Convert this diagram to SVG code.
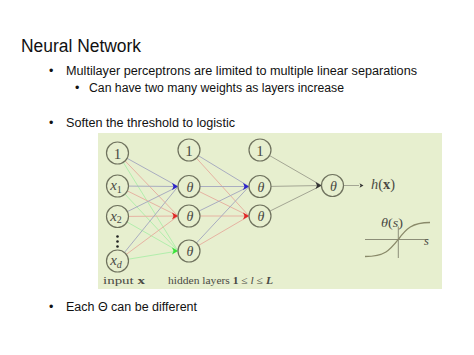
<svg xmlns="http://www.w3.org/2000/svg" width="474" height="355" viewBox="0 0 474 355">
<defs>
<style>
.t{font-family:"Liberation Sans",Arial,sans-serif;fill:#111}
.s{font-family:"Liberation Serif","DejaVu Serif",serif;fill:#4a4a44}
.n{fill:none;stroke:#6f725e;stroke-width:1.2}
.lb{stroke:#a9adc0;stroke-width:1}
.lr{stroke:#e6b3a2;stroke-width:1}
.lg{stroke:#b2eeac;stroke-width:1}
.lk{stroke:#a4a694;stroke-width:1}
</style>
<path id="ah" d="M0,0 L-6,-3.5 L-4.5,0 L-6,3.5 Z"/>
<path id="ahs" d="M0,0 L-4,-2.3 L-3,0 L-4,2.3 Z"/>
</defs>
<rect width="474" height="355" fill="#ffffff"/>
<text class="t" x="21" y="52" font-size="18" textLength="120" lengthAdjust="spacingAndGlyphs">Neural Network</text>
<text class="t" x="49" y="75" font-size="12.5">•</text>
<text class="t" x="66" y="75" font-size="12.5" textLength="351" lengthAdjust="spacingAndGlyphs">Multilayer perceptrons are limited to multiple linear separations</text>
<text class="t" x="75" y="92" font-size="12.5">•</text>
<text class="t" x="89" y="92" font-size="12.5" textLength="255" lengthAdjust="spacingAndGlyphs">Can have two many weights as layers increase</text>
<text class="t" x="49" y="127" font-size="12.5">•</text>
<text class="t" x="66" y="127" font-size="12.5" textLength="169" lengthAdjust="spacingAndGlyphs">Soften the threshold to logistic</text>
<text class="t" x="49" y="311" font-size="12.5">•</text>
<text class="t" x="66" y="311" font-size="12.5" textLength="131" lengthAdjust="spacingAndGlyphs">Each Θ can be different</text>
<rect x="98" y="133" width="344" height="156" fill="#e7efcf"/>
<g id="connectors" fill="none">
<line class="lb" x1="127.1" y1="158.3" x2="178" y2="186.5"/>
<line class="lr" x1="125.1" y1="160.9" x2="178" y2="216"/>
<line class="lg" x1="123.3" y1="162.4" x2="178" y2="251"/>
<line class="lb" x1="128.5" y1="186.1" x2="178" y2="186.5"/>
<line class="lr" x1="127.4" y1="190.9" x2="178" y2="216"/>
<line class="lg" x1="125" y1="194.1" x2="178" y2="251"/>
<line class="lb" x1="127.4" y1="211.6" x2="178" y2="186.5"/>
<line class="lr" x1="128.5" y1="216.4" x2="178" y2="216"/>
<line class="lg" x1="127.1" y1="222" x2="178" y2="251"/>
<line class="lb" x1="124.4" y1="252.5" x2="178" y2="186.5"/>
<line class="lr" x1="126.3" y1="254.4" x2="178" y2="216"/>
<line class="lg" x1="128.4" y1="259.2" x2="178" y2="251"/>
<line class="lb" x1="198.4" y1="155.7" x2="249" y2="186.5"/>
<line class="lr" x1="196.4" y1="158.1" x2="249" y2="216"/>
<line class="lb" x1="200" y1="186.5" x2="249" y2="186.5"/>
<line class="lr" x1="198.9" y1="191.4" x2="249" y2="216"/>
<line class="lb" x1="198.9" y1="211.1" x2="249" y2="186.5"/>
<line class="lr" x1="200" y1="216" x2="249" y2="216"/>
<line class="lb" x1="196.5" y1="242.9" x2="249" y2="186.5"/>
<line class="lr" x1="198.5" y1="245.5" x2="249" y2="216"/>
<line class="lk" x1="269.5" y1="155.5" x2="321.5" y2="185.5"/>
<line class="lk" x1="271" y1="186.4" x2="321.5" y2="185.5"/>
<line class="lk" x1="269.9" y1="211.1" x2="321.5" y2="185.5"/>
<line class="lk" x1="344" y1="185.5" x2="359" y2="185.5"/>
<use href="#ah" x="178" y="186.5" fill="#2a22c8"/>
<use href="#ah" x="178" y="216" fill="#e02626"/>
<use href="#ah" x="178" y="251" fill="#3ae33a"/>
<use href="#ah" x="249" y="186.5" fill="#2a22c8"/>
<use href="#ah" x="249" y="216" fill="#e02626"/>
<use href="#ah" x="321.5" y="185.5" fill="#333"/>
<use href="#ahs" x="363.5" y="185.5" fill="#333"/>
</g>
<g id="in1"><circle class="n" cx="117.5" cy="153" r="11"/><text class="s" x="117.5" y="158.5" font-size="15" text-anchor="middle">1</text></g>
<g id="inx1"><circle class="n" cx="117.5" cy="186" r="11"/><text class="s" x="116" y="190" font-size="15" text-anchor="middle" font-style="italic">x<tspan font-size="10" font-style="normal" dy="2.5">1</tspan></text></g>
<g id="inx2"><circle class="n" cx="117.5" cy="216.5" r="11"/><text class="s" x="116" y="220.5" font-size="15" text-anchor="middle" font-style="italic">x<tspan font-size="10" font-style="normal" dy="2.5">2</tspan></text></g>
<g id="dots" fill="#222"><circle cx="117.5" cy="236.5" r="1.3"/><circle cx="117.5" cy="241.5" r="1.3"/><circle cx="117.5" cy="246.5" r="1.3"/></g>
<g id="inxd"><circle class="n" cx="117.5" cy="261" r="11"/><text class="s" x="116" y="265" font-size="15" text-anchor="middle" font-style="italic">x<tspan font-size="10" dy="2.5">d</tspan></text></g>
<g id="h1b"><circle class="n" cx="189" cy="150" r="11"/><text class="s" x="189" y="155.5" font-size="15" text-anchor="middle">1</text></g>
<g id="h1a"><circle class="n" cx="189" cy="186.5" r="11"/><text class="s" x="190" y="191.5" font-size="14" text-anchor="middle" font-style="italic">θ</text></g>
<g id="h1c"><circle class="n" cx="189" cy="216" r="11"/><text class="s" x="190" y="221" font-size="14" text-anchor="middle" font-style="italic">θ</text></g>
<g id="h1d"><circle class="n" cx="189" cy="251" r="11"/><text class="s" x="190" y="256" font-size="14" text-anchor="middle" font-style="italic">θ</text></g>
<g id="h2b"><circle class="n" cx="260" cy="150" r="11"/><text class="s" x="260" y="155.5" font-size="15" text-anchor="middle">1</text></g>
<g id="h2a"><circle class="n" cx="260" cy="186.5" r="11"/><text class="s" x="261" y="191.5" font-size="14" text-anchor="middle" font-style="italic">θ</text></g>
<g id="h2c"><circle class="n" cx="260" cy="216" r="11"/><text class="s" x="261" y="221" font-size="14" text-anchor="middle" font-style="italic">θ</text></g>
<g id="out"><circle class="n" cx="332.5" cy="185.5" r="11"/><text class="s" x="333.5" y="190.5" font-size="14" text-anchor="middle" font-style="italic">θ</text></g>
<text class="s" x="371" y="189" font-size="14" textLength="24" lengthAdjust="spacingAndGlyphs"><tspan font-style="italic">h</tspan>(<tspan font-weight="bold">x</tspan>)</text>
<g id="sigmoid" fill="none" stroke="#8c8e78" stroke-width="1">
<line x1="365" y1="239.5" x2="428" y2="239.5"/>
<line x1="398.3" y1="226.5" x2="398.3" y2="258"/>
<path d="M365,256.5 C385,256.5 390,250 398.3,239.5 C406,229 412,222.5 430,222.5" stroke="#8a8a6a" stroke-width="1.3"/>
</g>
<text class="s" x="381" y="227" font-size="12.5" textLength="22" lengthAdjust="spacingAndGlyphs"><tspan font-style="italic">θ</tspan>(<tspan font-style="italic">s</tspan>)</text>
<text class="s" x="424" y="244.5" font-size="12.5" font-style="italic">s</text>
<text class="s" x="103" y="283.5" font-size="10.5" textLength="42" lengthAdjust="spacingAndGlyphs">input <tspan font-weight="bold">x</tspan></text>
<text class="s" x="168" y="283.5" font-size="10.5" textLength="105" lengthAdjust="spacingAndGlyphs">hidden layers <tspan font-weight="bold">1</tspan> ≤ <tspan font-style="italic">l</tspan> ≤ <tspan font-weight="bold" font-style="italic">L</tspan></text>
</svg>
